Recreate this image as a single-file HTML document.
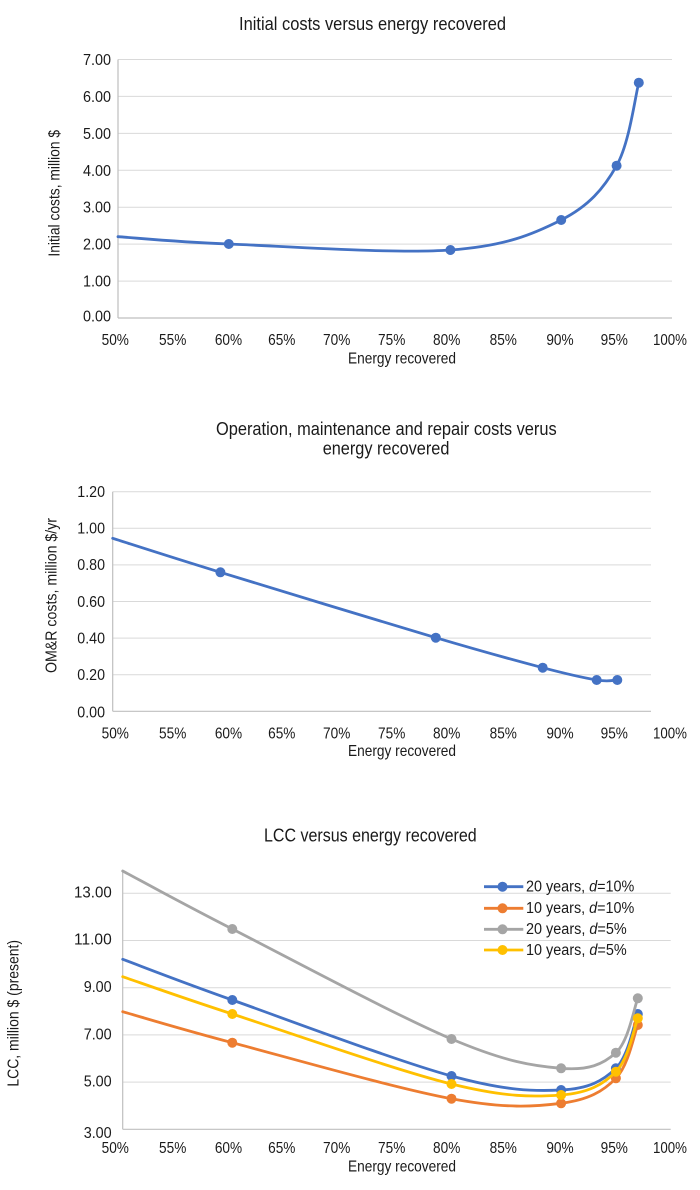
<!DOCTYPE html>
<html>
<head>
<meta charset="utf-8">
<style>
html,body{margin:0;padding:0;background:#fff;}
svg{display:block;}
text{font-family:"Liberation Sans Narrow","Liberation Sans",sans-serif;fill:#1a1a1a;}
</style>
</head>
<body>
<svg width="700" height="1190" viewBox="0 0 700 1190" xmlns="http://www.w3.org/2000/svg">
<rect width="700" height="1190" fill="#fff"/>

<!-- ============ CHART 1 ============ -->
<text x="239" y="30" font-size="18.5" textLength="267" lengthAdjust="spacingAndGlyphs">Initial costs versus energy recovered</text>
<g stroke="#d9d9d9" stroke-width="1">
<line x1="118" y1="59.5" x2="672" y2="59.5"/>
<line x1="118" y1="96.4" x2="672" y2="96.4"/>
<line x1="118" y1="133.4" x2="672" y2="133.4"/>
<line x1="118" y1="170.3" x2="672" y2="170.3"/>
<line x1="118" y1="207.2" x2="672" y2="207.2"/>
<line x1="118" y1="244.1" x2="672" y2="244.1"/>
<line x1="118" y1="281.1" x2="672" y2="281.1"/>
</g>
<g stroke="#bfbfbf" stroke-width="1.2">
<line x1="118" y1="318" x2="672" y2="318"/>
<line x1="118" y1="59.5" x2="118" y2="318"/>
</g>
<g font-size="15.5" text-anchor="end">
<text x="111" y="65" textLength="28" lengthAdjust="spacingAndGlyphs">7.00</text>
<text x="111" y="101.9" textLength="28" lengthAdjust="spacingAndGlyphs">6.00</text>
<text x="111" y="138.9" textLength="28" lengthAdjust="spacingAndGlyphs">5.00</text>
<text x="111" y="175.8" textLength="28" lengthAdjust="spacingAndGlyphs">4.00</text>
<text x="111" y="212.7" textLength="28" lengthAdjust="spacingAndGlyphs">3.00</text>
<text x="111" y="249.6" textLength="28" lengthAdjust="spacingAndGlyphs">2.00</text>
<text x="111" y="286.6" textLength="28" lengthAdjust="spacingAndGlyphs">1.00</text>
<text x="111" y="321.5" textLength="28" lengthAdjust="spacingAndGlyphs">0.00</text>
</g>
<g font-size="15.5" text-anchor="middle">
<text x="115.3" y="345" textLength="27.3" lengthAdjust="spacingAndGlyphs">50%</text>
<text x="172.7" y="345" textLength="27.3" lengthAdjust="spacingAndGlyphs">55%</text>
<text x="228.5" y="345" textLength="27.3" lengthAdjust="spacingAndGlyphs">60%</text>
<text x="281.8" y="345" textLength="27.3" lengthAdjust="spacingAndGlyphs">65%</text>
<text x="336.7" y="345" textLength="27.3" lengthAdjust="spacingAndGlyphs">70%</text>
<text x="391.7" y="345" textLength="27.3" lengthAdjust="spacingAndGlyphs">75%</text>
<text x="446.7" y="345" textLength="27.3" lengthAdjust="spacingAndGlyphs">80%</text>
<text x="503.3" y="345" textLength="27.3" lengthAdjust="spacingAndGlyphs">85%</text>
<text x="560" y="345" textLength="27.3" lengthAdjust="spacingAndGlyphs">90%</text>
<text x="614.3" y="345" textLength="27.3" lengthAdjust="spacingAndGlyphs">95%</text>
<text x="670" y="345" textLength="34" lengthAdjust="spacingAndGlyphs">100%</text>
</g>
<text x="348" y="363.5" font-size="16" textLength="108" lengthAdjust="spacingAndGlyphs">Energy recovered</text>
<text transform="translate(59.3,193.3) rotate(-90)" x="0" y="0" font-size="16" text-anchor="middle" textLength="126.7" lengthAdjust="spacingAndGlyphs">Initial costs, million $</text>
<path d="M118,236.7 C136.5,237.9 173.4,241.8 228.8,244 C284.2,246.2 395,254 450.4,250 C505.8,246 533.5,234.05 561.2,220 C588.9,205.95 603.67,188.58 616.6,165.7 C629.53,142.82 635.1,96.53 638.8,82.7" fill="none" stroke="#4472c4" stroke-width="2.8" stroke-linecap="round"/>
<g fill="#4472c4">
<circle cx="228.8" cy="244" r="5"/>
<circle cx="450.4" cy="250" r="5"/>
<circle cx="561.2" cy="220" r="5"/>
<circle cx="616.6" cy="165.7" r="5"/>
<circle cx="638.8" cy="82.7" r="5"/>
</g>

<!-- ============ CHART 2 ============ -->
<text x="216" y="435" font-size="18.5" textLength="340.7" lengthAdjust="spacingAndGlyphs">Operation, maintenance and repair costs verus</text>
<text x="322.7" y="454.5" font-size="18.5" textLength="126.7" lengthAdjust="spacingAndGlyphs">energy recovered</text>
<g stroke="#d9d9d9" stroke-width="1">
<line x1="112.7" y1="491.7" x2="651" y2="491.7"/>
<line x1="112.7" y1="528.3" x2="651" y2="528.3"/>
<line x1="112.7" y1="564.9" x2="651" y2="564.9"/>
<line x1="112.7" y1="601.5" x2="651" y2="601.5"/>
<line x1="112.7" y1="638.1" x2="651" y2="638.1"/>
<line x1="112.7" y1="674.7" x2="651" y2="674.7"/>
</g>
<g stroke="#bfbfbf" stroke-width="1.2">
<line x1="112.7" y1="711.3" x2="651" y2="711.3"/>
<line x1="112.7" y1="491.7" x2="112.7" y2="711.3"/>
</g>
<g font-size="15.5" text-anchor="end">
<text x="105" y="497" textLength="27.7" lengthAdjust="spacingAndGlyphs">1.20</text>
<text x="105" y="533.6" textLength="27.7" lengthAdjust="spacingAndGlyphs">1.00</text>
<text x="105" y="570.2" textLength="27.7" lengthAdjust="spacingAndGlyphs">0.80</text>
<text x="105" y="606.8" textLength="27.7" lengthAdjust="spacingAndGlyphs">0.60</text>
<text x="105" y="643.4" textLength="27.7" lengthAdjust="spacingAndGlyphs">0.40</text>
<text x="105" y="680" textLength="27.7" lengthAdjust="spacingAndGlyphs">0.20</text>
<text x="105" y="717.5" textLength="27.7" lengthAdjust="spacingAndGlyphs">0.00</text>
</g>
<g font-size="15.5" text-anchor="middle">
<text x="115.3" y="738.3" textLength="27.3" lengthAdjust="spacingAndGlyphs">50%</text>
<text x="172.7" y="738.3" textLength="27.3" lengthAdjust="spacingAndGlyphs">55%</text>
<text x="228.5" y="738.3" textLength="27.3" lengthAdjust="spacingAndGlyphs">60%</text>
<text x="281.8" y="738.3" textLength="27.3" lengthAdjust="spacingAndGlyphs">65%</text>
<text x="336.7" y="738.3" textLength="27.3" lengthAdjust="spacingAndGlyphs">70%</text>
<text x="391.7" y="738.3" textLength="27.3" lengthAdjust="spacingAndGlyphs">75%</text>
<text x="446.7" y="738.3" textLength="27.3" lengthAdjust="spacingAndGlyphs">80%</text>
<text x="503.3" y="738.3" textLength="27.3" lengthAdjust="spacingAndGlyphs">85%</text>
<text x="560" y="738.3" textLength="27.3" lengthAdjust="spacingAndGlyphs">90%</text>
<text x="614.3" y="738.3" textLength="27.3" lengthAdjust="spacingAndGlyphs">95%</text>
<text x="670" y="738.3" textLength="34" lengthAdjust="spacingAndGlyphs">100%</text>
</g>
<text x="348" y="756" font-size="16" textLength="108" lengthAdjust="spacingAndGlyphs">Energy recovered</text>
<text transform="translate(56.5,595.5) rotate(-90)" x="0" y="0" font-size="16" text-anchor="middle" textLength="155" lengthAdjust="spacingAndGlyphs">OM&amp;R costs, million $/yr</text>
<path d="M112.7,538.3 C130.65,543.97 166.55,555.73 220.4,572.3 C274.25,588.87 382.08,621.8 435.8,637.7 C489.52,653.6 515.88,660.65 542.7,667.7 C569.52,674.75 584.27,677.95 596.7,680 C609.13,682.05 613.87,680 617.3,680" fill="none" stroke="#4472c4" stroke-width="2.8" stroke-linecap="round"/>
<g fill="#4472c4">
<circle cx="220.4" cy="572.3" r="5"/>
<circle cx="435.8" cy="637.7" r="5"/>
<circle cx="542.7" cy="667.7" r="5"/>
<circle cx="596.7" cy="680" r="5"/>
<circle cx="617.3" cy="680" r="5"/>
</g>

<!-- ============ CHART 3 ============ -->
<text x="264" y="841.5" font-size="18.5" textLength="212.7" lengthAdjust="spacingAndGlyphs">LCC versus energy recovered</text>
<g stroke="#d9d9d9" stroke-width="1">
<line x1="122.7" y1="893.3" x2="670.7" y2="893.3"/>
<line x1="122.7" y1="940.5" x2="670.7" y2="940.5"/>
<line x1="122.7" y1="987.7" x2="670.7" y2="987.7"/>
<line x1="122.7" y1="1034.9" x2="670.7" y2="1034.9"/>
<line x1="122.7" y1="1082.1" x2="670.7" y2="1082.1"/>
</g>
<g stroke="#bfbfbf" stroke-width="1.2">
<line x1="122.7" y1="1129.3" x2="670.7" y2="1129.3"/>
<line x1="122.7" y1="870.7" x2="122.7" y2="1129.3"/>
</g>
<g font-size="15.5" text-anchor="end">
<text x="111.7" y="897.5" textLength="37.7" lengthAdjust="spacingAndGlyphs">13.00</text>
<text x="111.7" y="944.5" textLength="37.7" lengthAdjust="spacingAndGlyphs">11.00</text>
<text x="111.7" y="992" textLength="28" lengthAdjust="spacingAndGlyphs">9.00</text>
<text x="111.7" y="1039.3" textLength="28" lengthAdjust="spacingAndGlyphs">7.00</text>
<text x="111.7" y="1086.5" textLength="28" lengthAdjust="spacingAndGlyphs">5.00</text>
<text x="111.7" y="1138" textLength="28" lengthAdjust="spacingAndGlyphs">3.00</text>
</g>
<g font-size="15.5" text-anchor="middle">
<text x="115.3" y="1153" textLength="27.3" lengthAdjust="spacingAndGlyphs">50%</text>
<text x="172.7" y="1153" textLength="27.3" lengthAdjust="spacingAndGlyphs">55%</text>
<text x="228.5" y="1153" textLength="27.3" lengthAdjust="spacingAndGlyphs">60%</text>
<text x="281.8" y="1153" textLength="27.3" lengthAdjust="spacingAndGlyphs">65%</text>
<text x="336.7" y="1153" textLength="27.3" lengthAdjust="spacingAndGlyphs">70%</text>
<text x="391.7" y="1153" textLength="27.3" lengthAdjust="spacingAndGlyphs">75%</text>
<text x="446.7" y="1153" textLength="27.3" lengthAdjust="spacingAndGlyphs">80%</text>
<text x="503.3" y="1153" textLength="27.3" lengthAdjust="spacingAndGlyphs">85%</text>
<text x="560" y="1153" textLength="27.3" lengthAdjust="spacingAndGlyphs">90%</text>
<text x="614.3" y="1153" textLength="27.3" lengthAdjust="spacingAndGlyphs">95%</text>
<text x="670" y="1153" textLength="34" lengthAdjust="spacingAndGlyphs">100%</text>
</g>
<text x="348" y="1171.5" font-size="16" textLength="108" lengthAdjust="spacingAndGlyphs">Energy recovered</text>
<text transform="translate(18.5,1013.3) rotate(-90)" x="0" y="0" font-size="16" text-anchor="middle" textLength="146.7" lengthAdjust="spacingAndGlyphs">LCC, million $ (present)</text>

<!-- series: blue -->
<path d="M122.7,959.3 C140.97,966.08 177.5,980.55 232.3,1000 C287.1,1019.45 396.7,1061 451.5,1076 C506.3,1091 533.7,1091.28 561.1,1090 C588.5,1088.72 603.12,1080.97 615.9,1068.3 C628.68,1055.63 634.15,1023.05 637.8,1014" fill="none" stroke="#4472c4" stroke-width="2.8" stroke-linecap="round"/>
<g fill="#4472c4">
<circle cx="232.3" cy="1000" r="5"/>
<circle cx="451.5" cy="1076" r="5"/>
<circle cx="561.1" cy="1090" r="5"/>
<circle cx="615.9" cy="1068.3" r="5"/>
<circle cx="637.8" cy="1014" r="5"/>
</g>
<!-- series: orange -->
<path d="M122.7,1011.7 C140.97,1016.87 177.5,1028.2 232.3,1042.7 C287.1,1057.2 396.7,1088.6 451.5,1098.7 C506.3,1108.8 533.7,1106.7 561.1,1103.3 C588.5,1099.9 603.12,1091.35 615.9,1078.3 C628.68,1065.25 634.15,1033.88 637.8,1025" fill="none" stroke="#ed7d31" stroke-width="2.8" stroke-linecap="round"/>
<g fill="#ed7d31">
<circle cx="232.3" cy="1042.7" r="5"/>
<circle cx="451.5" cy="1098.7" r="5"/>
<circle cx="561.1" cy="1103.3" r="5"/>
<circle cx="615.9" cy="1078.3" r="5"/>
<circle cx="637.8" cy="1025" r="5"/>
</g>
<!-- series: gray -->
<path d="M122.7,871 C140.97,880.67 177.5,901 232.3,929 C287.1,957 396.7,1015.78 451.5,1039 C506.3,1062.22 533.7,1066.02 561.1,1068.3 C588.5,1070.58 603.12,1064.37 615.9,1052.7 C628.68,1041.03 634.15,1007.37 637.8,998.3" fill="none" stroke="#a5a5a5" stroke-width="2.8" stroke-linecap="round"/>
<g fill="#a5a5a5">
<circle cx="232.3" cy="929" r="5"/>
<circle cx="451.5" cy="1039" r="5"/>
<circle cx="561.1" cy="1068.3" r="5"/>
<circle cx="615.9" cy="1052.7" r="5"/>
<circle cx="637.8" cy="998.3" r="5"/>
</g>
<!-- series: yellow -->
<path d="M122.7,976.7 C140.97,982.92 177.5,996.12 232.3,1014 C287.1,1031.88 396.7,1070.5 451.5,1084 C506.3,1097.5 533.7,1097.05 561.1,1095 C588.5,1092.95 603.12,1084.48 615.9,1071.7 C628.68,1058.92 634.15,1027.2 637.8,1018.3" fill="none" stroke="#ffc000" stroke-width="2.8" stroke-linecap="round"/>
<g fill="#ffc000">
<circle cx="232.3" cy="1014" r="5"/>
<circle cx="451.5" cy="1084" r="5"/>
<circle cx="561.1" cy="1095" r="5"/>
<circle cx="615.9" cy="1071.7" r="5"/>
<circle cx="637.8" cy="1018.3" r="5"/>
</g>

<!-- legend -->
<g stroke-width="2.8">
<line x1="484" y1="886.7" x2="523.3" y2="886.7" stroke="#4472c4"/>
<line x1="484" y1="908.3" x2="523.3" y2="908.3" stroke="#ed7d31"/>
<line x1="484" y1="929.3" x2="523.3" y2="929.3" stroke="#a5a5a5"/>
<line x1="484" y1="950" x2="523.3" y2="950" stroke="#ffc000"/>
</g>
<circle cx="502.5" cy="886.7" r="5" fill="#4472c4"/>
<circle cx="502.5" cy="908.3" r="5" fill="#ed7d31"/>
<circle cx="502.5" cy="929.3" r="5" fill="#a5a5a5"/>
<circle cx="502.5" cy="950" r="5" fill="#ffc000"/>
<g font-size="15.5">
<text x="526" y="891.5" textLength="108.3" lengthAdjust="spacingAndGlyphs">20 years, <tspan font-style="italic">d</tspan>=10%</text>
<text x="526" y="913" textLength="108.3" lengthAdjust="spacingAndGlyphs">10 years, <tspan font-style="italic">d</tspan>=10%</text>
<text x="526" y="934" textLength="100.7" lengthAdjust="spacingAndGlyphs">20 years, <tspan font-style="italic">d</tspan>=5%</text>
<text x="526" y="954.8" textLength="100.7" lengthAdjust="spacingAndGlyphs">10 years, <tspan font-style="italic">d</tspan>=5%</text>
</g>
</svg>
</body>
</html>
